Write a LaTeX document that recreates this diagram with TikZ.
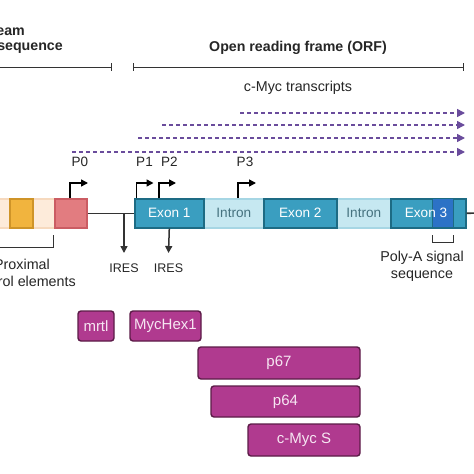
\documentclass[tikz,border=0pt]{standalone}
\usepackage{fontspec}
\setmainfont{Liberation Sans}
\usetikzlibrary{arrows.meta}
\definecolor{exonc}{HTML}{3A9EC0}
\definecolor{exonb}{HTML}{1D6B84}
\definecolor{intronc}{HTML}{C6E8F1}
\definecolor{intronb}{HTML}{A6D6E4}
\definecolor{introntxt}{HTML}{46727F}
\definecolor{polyac}{HTML}{2C72C6}
\definecolor{peach}{HTML}{FDEBDA}
\definecolor{peachb}{HTML}{F6D9BE}
\definecolor{orangec}{HTML}{F1B43E}
\definecolor{orangeb}{HTML}{CF9428}
\definecolor{redc}{HTML}{E27C80}
\definecolor{redb}{HTML}{CB5C63}
\definecolor{protc}{HTML}{B03A8F}
\definecolor{protb}{HTML}{5C1C48}
\definecolor{prottxt}{HTML}{F6E6F2}
\definecolor{dashc}{HTML}{6A4C9C}
\definecolor{linec}{HTML}{333333}
\begin{document}
\begin{tikzpicture}[x=1pt,y=-1pt,
  gbox/.style={draw, line width=1.6pt, inner sep=0pt, anchor=north west, minimum height=29pt},
  exonbox/.style={gbox, fill=exonc, draw=exonb},
  intronbox/.style={gbox, fill=intronc, draw=intronb},
  exontxt/.style={text=white, font=\fontsize{13.6}{15}\selectfont, inner sep=0pt},
  introntext/.style={text=introntxt, font=\fontsize{13.6}{15}\selectfont, inner sep=0pt},
  gline/.style={draw=linec, line width=1.6pt},
  thinline/.style={draw=linec, line width=1pt},
  prom/.style={draw=black, line width=1.5pt, -{Triangle[length=7pt,width=7pt]}},
  iresarrow/.style={draw=linec, line width=1.5pt, -{Triangle[length=7pt,width=7pt]}},
  transcript/.style={draw=dashc, line width=1.6pt, dash pattern=on 4pt off 3pt, -{Triangle[length=8pt,width=8pt]}},
  lbl/.style={text=black!85, font=\fontsize{14.3}{16}\selectfont, inner sep=0pt},
  plbl/.style={text=black!85, font=\fontsize{13.5}{15}\selectfont, inner sep=0pt},
  head/.style={text=black!85, font=\bfseries\fontsize{14.2}{16}\selectfont, inner sep=0pt},
  prot/.style={draw=protb, fill=protc, line width=1.4pt, rounded corners=3pt, inner sep=0pt,
               text=prottxt, font=\fontsize{15}{17}\selectfont, minimum height=30pt}
]
\useasboundingbox (0,0) rectangle (474,474);
\clip (0,0) rectangle (474,474);
\fill[white] (0,0) rectangle (474,474);

% headings
\node[head, anchor=base east] (hup1) at (25,35) {Upstream};
\node[head, anchor=base east] (hup2) at (63,50.5) {regulatory sequence};
\node[head, anchor=base] (horf) at (298,51) {Open reading frame (ORF)};
\node[lbl, anchor=base] (htr) at (298,91) {c-Myc transcripts};

% top brackets
\draw[thinline] (-20,67) -- (111,67);
\draw[thinline] (111,63) -- (111,71);
\draw[thinline] (133,63) -- (133,71);
\draw[thinline] (133,67) -- (463,67);
\draw[thinline] (463,63) -- (463,71);

% transcripts
\coordinate (t1s) at (240,113); \coordinate (t1e) at (465,113);
\coordinate (t2s) at (162,125); \coordinate (t2e) at (465,125);
\coordinate (t3s) at (138,138); \coordinate (t3e) at (465,138);
\coordinate (t4s) at (72,152);  \coordinate (t4e) at (465,152);
\draw[transcript] (t1s) -- (t1e);
\draw[transcript] (t2s) -- (t2e);
\draw[transcript] (t3s) -- (t3e);
\draw[transcript] (t4s) -- (t4e);

% upstream elements
\node[gbox, fill=peach, draw=peachb, minimum width=106pt] (up) at (-20,198) {};
\node[gbox, fill=orangec, draw=orangeb, minimum width=23pt] (el1) at (9,198) {};
\node[gbox, fill=redc, draw=redb, minimum width=32pt] (el2) at (54,198) {};

% gene boxes
\node[intronbox, minimum width=60pt] (in1) at (203,198) {};
\node[intronbox, minimum width=54pt] (in2) at (336,198) {};
\node[exonbox, minimum width=69pt] (ex1) at (134,198) {};
\node[exonbox, minimum width=73pt] (ex2) at (263,198) {};
\node[exonbox, minimum width=75pt] (ex3) at (390,198) {};
\node[gbox, fill=polyac, draw=exonb, line width=1.2pt, minimum width=21pt] (pa) at (432,198) {};
\node[exontxt] (ex1t) at (ex1.center) {Exon 1};
\node[exontxt] (ex2t) at (ex2.center) {Exon 2};
\node[exontxt] (ex3t) at (426,212.5) {Exon 3};
\node[introntext] (in1t) at (in1.center) {Intron};
\node[introntext] (in2t) at (in2.center) {Intron};

% main line
\coordinate (rend) at (480,213);
\draw[gline] (el2.east) -- (ex1.west);
\draw[gline] (ex3.east) -- (rend);

% promoters
\node[plbl] (p0) at (80,162) {P0};
\node[plbl] (p1) at (144.5,162) {P1};
\node[plbl] (p2) at (169.5,162) {P2};
\node[plbl] (p3) at (245,162) {P3};
\coordinate (p0b) at (70,198);
\coordinate (p1b) at (136.5,198);
\coordinate (p2b) at (159,198);
\coordinate (p3b) at (238,198);
\draw[prom] (p0b) |- ++(18,-15);
\draw[prom] (p1b) |- ++(17,-15);
\draw[prom] (p2b) |- ++(17,-15);
\draw[prom] (p3b) |- ++(18,-15);

% IRES
\coordinate (ires1b) at (124,213);
\coordinate (ires1tip) at (124,253);
\coordinate (ires2tip) at (168.5,253);
\draw[iresarrow] (ires1b) -- (ires1tip);
\draw[iresarrow] (ex1.south) -- (ires2tip);
\node[lbl, font=\fontsize{12.5}{14}\selectfont] (ires1) at (124,268) {IRES};
\node[lbl, font=\fontsize{12.5}{14}\selectfont] (ires2) at (168.5,268) {IRES};

% proximal control elements
\draw[thinline] (-20,247) -- (53,247) -- (53,235);
\node[lbl, anchor=base east] (prox1) at (50,269.5) {Proximal};
\node[lbl, anchor=base east] (prox2) at (76,286) {control elements};

% poly-A
\draw[thinline] (432,235) -- (432,242) -- (453,242) -- (453,235);
\node[lbl, anchor=base] (pa1) at (422,261.5) {Poly-A signal};
\node[lbl, anchor=base] (pa2) at (422,278) {sequence};

% protein isoforms
\node[prot, minimum width=36pt] (mrtl) at (96,326) {mrtl};
\node[prot, minimum width=71pt] (hex) at (165.5,326) {MycHex1};
\node[prot, minimum width=162pt, minimum height=32pt] (p67) at (279,363) {p67};
\node[prot, minimum width=149pt, minimum height=31pt] (p64) at (285.5,401.5) {p64};
\node[prot, minimum width=112pt, minimum height=32pt] (cmycs) at (304,440) {c-Myc S};
\end{tikzpicture}
\end{document}
